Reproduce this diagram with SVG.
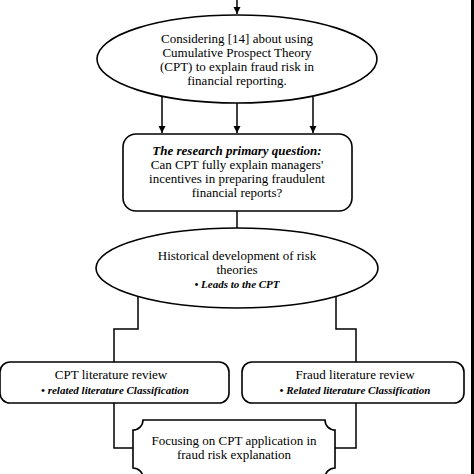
<svg xmlns="http://www.w3.org/2000/svg" width="474" height="474" viewBox="0 0 474 474">
<defs>
<marker id="arr" viewBox="0 0 10 10" refX="10" refY="5" markerWidth="7" markerHeight="8" markerUnits="userSpaceOnUse" orient="auto">
<path d="M0,0 L10,5 L0,10 z" fill="#000"/>
</marker>
<style>
.shape{fill:#fff;stroke:#000;stroke-width:1.6}
.ln{fill:none;stroke:#000;stroke-width:1.5}
.t{font-family:"Liberation Serif","Times New Roman",serif;font-size:13px;fill:#000;text-anchor:middle}
.b{font-family:"Liberation Serif","Times New Roman",serif;font-size:11px;font-weight:bold;font-style:italic;fill:#000;text-anchor:middle}
.bq{font-family:"Liberation Serif","Times New Roman",serif;font-size:13px;font-weight:bold;font-style:italic;fill:#000;text-anchor:middle}
</style>
</defs>
<rect width="474" height="474" fill="#fff"/>
<g id="connectors">
<line class="ln" x1="237" y1="0" x2="237" y2="14" marker-end="url(#arr)"/>
<line class="ln" x1="162" y1="97" x2="162" y2="133" marker-end="url(#arr)"/>
<line class="ln" x1="237" y1="103" x2="237" y2="133" marker-end="url(#arr)"/>
<line class="ln" x1="313" y1="97" x2="313" y2="133" marker-end="url(#arr)"/>
<line class="ln" x1="237" y1="211" x2="237" y2="228"/>
<polyline class="ln" points="138,297 138,329 114,329 114,362"/>
<polyline class="ln" points="336,297 336,329 356,329 356,362"/>
<polyline class="ln" points="114,403 114,448 133,448"/>
<polyline class="ln" points="356,403 356,448 335,448"/>
</g>
<g id="n1">
<ellipse class="shape" cx="237" cy="59" rx="140" ry="44"/>
<text class="t" x="237" y="43">Considering [14] about using</text>
<text class="t" x="237" y="57">Cumulative Prospect Theory</text>
<text class="t" x="237" y="71">(CPT) to explain fraud risk in</text>
<text class="t" x="237" y="85">financial reporting.</text>
</g>
<g id="n2">
<rect class="shape" x="123" y="134" width="229" height="77" rx="13"/>
<text class="bq" x="237" y="155">The research primary question:</text>
<text class="t" x="237" y="169">Can CPT fully explain managers'</text>
<text class="t" x="237" y="183">incentives in preparing fraudulent</text>
<text class="t" x="237" y="197">financial reports?</text>
</g>
<g id="n3">
<ellipse class="shape" cx="237" cy="268" rx="141" ry="40"/>
<text class="t" x="237" y="260">Historical development of risk</text>
<text class="t" x="237" y="274">theories</text>
<text class="b" x="237" y="288">• Leads to the CPT</text>
</g>
<g id="n4">
<rect class="shape" x="0" y="362" width="229" height="41" rx="10"/>
<text class="t" x="111" y="379">CPT literature review</text>
<text class="b" x="115" y="394">•  related literature Classification</text>
</g>
<g id="n5">
<rect class="shape" x="242" y="362" width="222" height="41" rx="10"/>
<text class="t" x="355" y="379">Fraud literature review</text>
<text class="b" x="355" y="394">•  Related literature Classification</text>
</g>
<g id="n6">
<path class="shape" d="M143,420 L325,420 A10,10 0 0 0 335,430 L335,468 A10,10 0 0 0 325,478 L143,478 A10,10 0 0 0 133,468 L133,430 A10,10 0 0 0 143,420 Z"/>
<text class="t" x="234" y="445">Focusing on CPT application in</text>
<text class="t" x="234" y="459">fraud risk explanation</text>
</g>
<rect x="471" y="0" width="3" height="474" fill="#000"/>
</svg>
